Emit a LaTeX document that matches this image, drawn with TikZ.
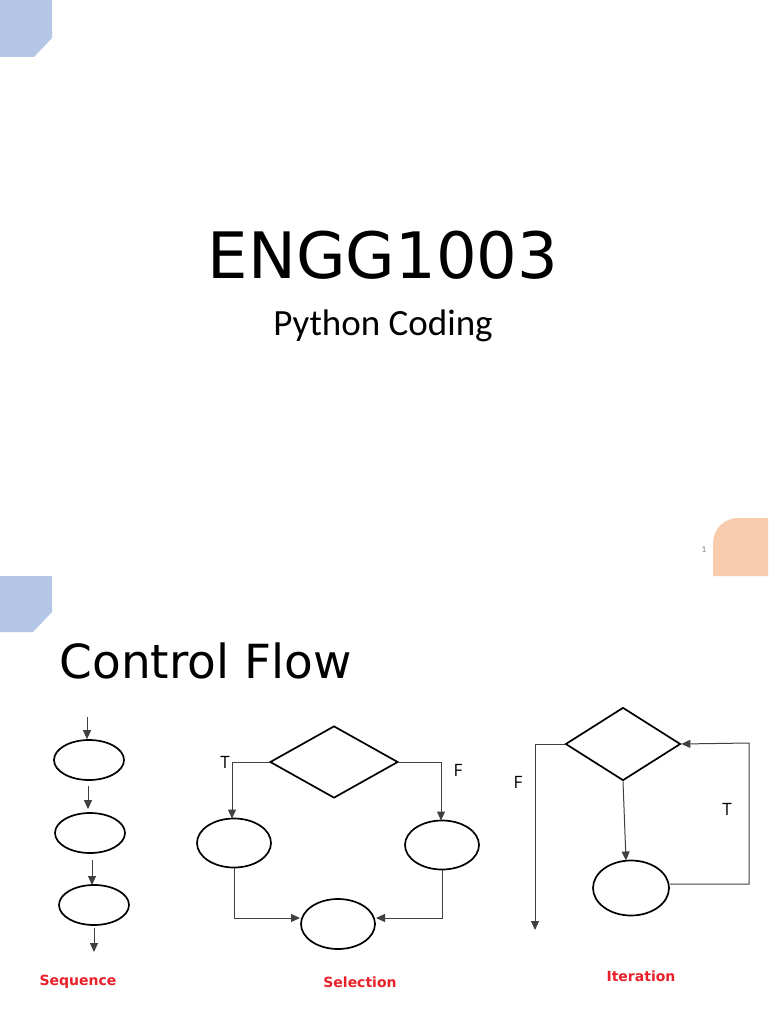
\documentclass[tikz,border=0pt]{standalone}
\usepackage{fontspec}
\setmainfont{DejaVu Sans}
\newfontfamily\calfont{Carlito}
\newfontfamily\labfont{Open Sans}
\usetikzlibrary{arrows.meta,shapes.geometric}
\definecolor{cblue}{HTML}{B4C7E7}
\definecolor{corange}{HTML}{F8CBAD}
\definecolor{cred}{HTML}{E8202A}
\tikzset{
  ell/.style={draw,line width=1.7pt,ellipse,minimum width=70pt,minimum height=40pt,inner sep=0pt},
  dia/.style={draw,line width=1.7pt,diamond,inner sep=0pt},
  ln/.style={draw=black!75,line width=1pt},
  ar/.style={ln,-{Triangle[length=9pt,width=8pt]}},
  tf/.style={font=\labfont\fontsize{17}{17}\selectfont},
  captxt/.style={text=cred,font=\bfseries\fontsize{14}{14}\selectfont},
}
\begin{document}
\begin{tikzpicture}[x=1pt,y=-1pt]
\useasboundingbox (0,0) rectangle (768,1024);
\fill[white] (0,0) rectangle (768,1024);
% slide 1
\fill[cblue] (0,0) -- (52,0) -- (52,38) -- (34,57) -- (0,57) -- cycle;
\fill[corange] (768,576) -- (713,576) -- (713,543) arc[start angle=180,end angle=270,radius=25] -- (768,518) -- cycle;
\node[font=\fontsize{64}{64}\selectfont] (title) at (383,255) {ENGG1003};
\node[font=\calfont\fontsize{37}{37}\selectfont] (sub) at (383,326) {Python Coding};
\node[text=black!50,font=\calfont\fontsize{9}{9}\selectfont] (pg) at (704,550) {1};
% slide 2
\fill[cblue] (0,576) -- (52,576) -- (52,612) -- (33,632) -- (0,632) -- cycle;
\node[anchor=west,font=\fontsize{47}{47}\selectfont] (cf) at (56,661) {Control Flow};
% sequence
\node[ell] (s1) at (89,760) {};
\node[ell] (s2) at (90,833) {};
\node[ell] (s3) at (94,905) {};
\coordinate (s0) at (87,717);
\coordinate (s1b) at (88,786);
\coordinate (s2b) at (92,860);
\coordinate (s3b) at (94,928);
\coordinate (s4) at (94,952);
\draw[ar] (s0) -- (s1.north -| s0);
\draw[ar] (s1b) -- (88,809);
\draw[ar] (s2b) -- (92,885);
\draw[ar] (s3b) -- (s4);
\node[captxt] (seq) at (78,982) {Sequence};
% selection
\node[dia,minimum width=128pt,minimum height=72pt] (d1) at (334,762) {};
\node[ell,minimum width=74pt,minimum height=49pt] (el) at (234,843) {};
\node[ell,minimum width=74pt,minimum height=49pt] (er) at (442,845) {};
\node[ell,minimum width=74pt,minimum height=50pt] (em) at (338,924) {};
\draw[ar] (d1.west) -- (232,762) -- (232,818.5);
\draw[ar] (d1.east) -- (441,762) -- (441,820.5);
\draw[ar] (el.south) -- (234,918) -- (300,918);
\draw[ar] (er.south) -- (442,918) -- (376,918);
\node[tf] (t1) at (225,762) {T};
\node[tf] (f1) at (458,770) {F};
\node[captxt] (sel) at (360,982) {Selection};
% iteration
\node[dia,minimum width=115pt,minimum height=73pt] (d2) at (623,744) {};
\node[ell,minimum width=76pt,minimum height=55pt] (ei) at (631,888) {};
\coordinate (fend) at (535,930);
\coordinate (lp) at (749,884);
\draw[ar] (d2.west) -- (535,744) -- (fend);
\draw[ar] (d2.south) -- (626,860.5);
\draw[ar] (ei.east |- lp) -- (lp) -- (749,743) -- (d2.east);
\node[tf] (f2) at (518,782) {F};
\node[tf] (t2) at (727,809) {T};
\node[captxt] (it) at (641,976) {Iteration};
\end{tikzpicture}
\end{document}
